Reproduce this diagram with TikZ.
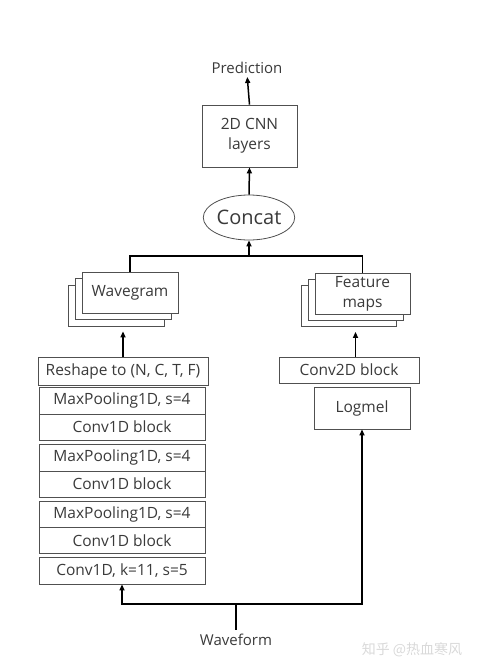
\documentclass[tikz,border=0pt]{standalone}
\usepackage{fontspec}
\setmainfont{Open Sans}
\newfontfamily\cjk{Noto Sans CJK SC}
\usetikzlibrary{arrows.meta,shapes.geometric}
\definecolor{txt}{HTML}{3A3A3A}
\definecolor{brd}{HTML}{505050}
\tikzset{
  box/.style={draw=brd, line width=0.8pt, fill=white, inner sep=0pt, text=txt,
    font=\fontsize{15.5}{20}\selectfont, align=center},
  lbl/.style={inner sep=0pt, text=txt, font=\fontsize{15}{18}\selectfont},
  conn/.style={draw=black, line width=1.5pt},
  arr/.style={conn, -{Triangle[length=6pt,width=5pt]}},
}
\begin{document}
\begin{tikzpicture}[x=1pt,y=-1pt]
\useasboundingbox (0,0) rectangle (477,672);
% top
\node[lbl] (pred) at (247,68) {Prediction};
\node[box, minimum width=95pt, minimum height=62pt] (cnn) at (249.5,136) {2D CNN\\layers};
\node[box, ellipse, minimum width=70pt, minimum height=45pt, font=\fontsize{20}{22}\selectfont] (concat) at (249,217.5) {Concat};
% wavegram stack
\node[box, minimum width=96pt, minimum height=41pt] (waveback) at (116,305.5) {};
\node[box, minimum width=96pt, minimum height=41pt] (wavemid) at (123,299) {};
\node[box, minimum width=96pt, minimum height=41pt] (wavefront) at (130,292.5) {Wavegram};
% feature stack
\node[box, minimum width=95pt, minimum height=41pt] (featback) at (349,306) {};
\node[box, minimum width=95pt, minimum height=41pt] (featmid) at (355.5,300) {};
\node[box, minimum width=95pt, minimum height=41pt] (featfront) at (362.5,293.5) {Feature\\maps};
% left column
\node[box, minimum width=170pt, minimum height=28pt] (reshape) at (123,371) {Reshape to (N, C, T, F)};
\node[box, minimum width=166pt, minimum height=27pt] (mp1) at (122,400.5) {MaxPooling1D, s=4};
\node[box, minimum width=166pt, minimum height=26pt] (cb1) at (122,427) {Conv1D block};
\node[box, minimum width=166pt, minimum height=27pt] (mp2) at (122,457.5) {MaxPooling1D, s=4};
\node[box, minimum width=166pt, minimum height=26pt] (cb2) at (122,484) {Conv1D block};
\node[box, minimum width=166pt, minimum height=27pt] (mp3) at (122,514.5) {MaxPooling1D, s=4};
\node[box, minimum width=166pt, minimum height=26pt] (cb3) at (122,540.5) {Conv1D block};
\node[box, minimum width=166pt, minimum height=27pt] (conv) at (122,570.5) {Conv1D, k=11, s=5};
% right column
\node[box, minimum width=140pt, minimum height=26pt] (conv2d) at (349,370) {Conv2D block};
\node[box, minimum width=96pt, minimum height=42pt] (logmel) at (362,408) {Logmel};
% bottom
\node[lbl] (waveform) at (236,640) {Waveform};
\coordinate (bj) at (236,604);
\coordinate (tj) at (249,256);
% connectors
\draw[arr, shorten >=3pt] (cnn.north) -- (pred.south);
\draw[arr] (concat.north) -- (cnn.south);
\draw[arr] (tj) -- (concat.south);
\draw[conn] (wavefront.north) |- (tj) -| (featfront.north);
\draw[arr, shorten >=5pt] (reshape.north) -- (reshape.north |- waveback.south);
\draw[arr, shorten >=5pt] (featmid.south |- conv2d.north) -- (featmid.south |- featback.south);
\draw[conn] (waveform.north) ++(0,-4) -- (bj);
\draw[arr] (bj) -| (conv.south);
\draw[arr] (bj) -| (logmel.south);
% watermark
\node[inner sep=0pt, text=gray!30, font=\cjk\fontsize{14}{16}\selectfont] (wm) at (412,650) {知乎 @热血寒风};
\end{tikzpicture}
\end{document}
